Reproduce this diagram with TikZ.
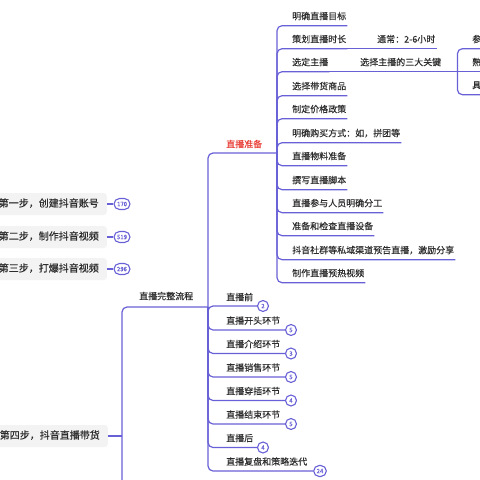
\documentclass[tikz,border=0pt]{standalone}
\usepackage{fontspec}
\setmainfont{Noto Sans CJK SC}[FakeBold=0.3]
\newfontfamily\stepfont{Noto Sans CJK SC}[FakeBold=0.7]
\usepackage{xcolor}
\usepackage{tikz}
\usetikzlibrary{positioning,calc}

\definecolor{branch}{RGB}{104,96,214}
\definecolor{hot}{RGB}{232,64,56}
\definecolor{stepgray}{RGB}{243,243,243}
\definecolor{ink}{RGB}{45,45,45}

\begin{document}
\begin{tikzpicture}[x=1pt, y=-1pt,
  link/.style={draw=branch, line width=1.2pt, rounded corners=5pt},
  stepbox/.style={fill=stepgray, rounded corners=3pt, anchor=east, inner xsep=8pt, inner ysep=0pt,
    minimum height=22pt, text height=7.6pt, text depth=2pt, font=\stepfont\fontsize{10}{12}\selectfont, text=ink},
  topic/.style={anchor=west, inner xsep=1pt, inner ysep=4pt, text height=7pt, text depth=2pt,
    font=\fontsize{9}{11}\selectfont, text=ink},
  badge/.style={draw=branch, fill=white, line width=1.1pt, rounded corners=5.5pt, minimum width=11pt,
    minimum height=11pt, inner xsep=3pt, inner ysep=0pt, text height=4.4pt, text depth=0pt,
    font=\fontsize{6}{7}\selectfont, text=branch}]
  \useasboundingbox (0,0) rectangle (480,480);
  \clip (0,0) rectangle (480,480);

  % Left: the four steps
  \node[stepbox] (s1) at (107,204) {第一步，创建抖音账号};
  \node[badge] (b1) at (122,204) {170};
  \draw[link] (s1) -- (b1);
  \node[stepbox] (s2) at (107,237) {第二步，制作抖音视频};
  \node[badge] (b2) at (122,237) {519};
  \draw[link] (s2) -- (b2);
  \node[stepbox] (s3) at (107,269) {第三步，打爆抖音视频};
  \node[badge] (b3) at (122,269) {296};
  \draw[link] (s3) -- (b3);
  \node[stepbox] (s4) at (108,436) {第四步，抖音直播带货};

  % Step four: trunk down to the whole flow
  \coordinate (flowj) at (122,436);
  \coordinate (mainj) at (208,307);
  \coordinate (more) at (122,490);
  \draw[link] (s4) -- (flowj);
  \draw[link] (mainj) -| (more);
  \node[topic] (flow) at (138,297) {直播完整流程};

  % Phases of the live stream
  \node[topic, text=hot] (prep) at (225,145) {直播准备};
  \coordinate (prepj) at (277,153);
  \draw[link] (mainj) |- (prepj);

  \node[topic] (p1) at (225,298) {直播前};
  \node[badge] (p1b) at (263,306) {2};
  \draw[link] (mainj) |- (p1b);
  \node[topic] (p2) at (225,321.5) {直播开头环节};
  \node[badge] (p2b) at (291,330) {5};
  \draw[link] (mainj) |- (p2b);
  \node[topic] (p3) at (225,345) {直播介绍环节};
  \node[badge] (p3b) at (291,353.5) {3};
  \draw[link] (mainj) |- (p3b);
  \node[topic] (p4) at (225,368.5) {直播销售环节};
  \node[badge] (p4b) at (291,377) {5};
  \draw[link] (mainj) |- (p4b);
  \node[topic] (p5) at (225,392) {直播穿插环节};
  \node[badge] (p5b) at (291,400.5) {4};
  \draw[link] (mainj) |- (p5b);
  \node[topic] (p6) at (225,415.5) {直播结束环节};
  \node[badge] (p6b) at (291,424) {5};
  \draw[link] (mainj) |- (p6b);
  \node[topic] (p7) at (225,439) {直播后};
  \node[badge] (p7b) at (263,447.5) {4};
  \draw[link] (mainj) |- (p7b);
  \node[topic] (p8) at (225,462.5) {直播复盘和策略迭代};
  \node[badge] (p8b) at (320,471) {24};
  \draw[link] (mainj) |- (p8b);

  % Preparation tasks
  \node[topic] (m1) at (291,17) {明确直播目标};
  \node[topic] (m2) at (291,40) {策划直播时长};
  \node[topic] (m2a) at (376,40) {通常：2-6小时};
  \node[topic] (m3) at (291,63) {选定主播};
  \node[topic] (m3a) at (359,63) {选择主播的三大关键};
  \node[topic] (m4) at (291,87) {选择带货商品};
  \node[topic] (m5) at (291,110) {制定价格政策};
  \node[topic] (m6) at (291,134) {明确购买方式：如，拼团等};
  \node[topic] (m7) at (291,157) {直播物料准备};
  \node[topic] (m8) at (291,181) {撰写直播脚本};
  \node[topic] (m9) at (291,204) {直播参与人员明确分工};
  \node[topic] (m10) at (291,227) {准备和检查直播设备};
  \node[topic] (m11) at (291,251) {抖音社群等私域渠道预告直播，激励分享};
  \node[topic] (m12) at (291,274) {制作直播预热视频};
  \foreach \m in {m1,m2,m3,m4,m5,m6,m7,m8,m9,m10,m11,m12}
    \draw[link] (prepj) |- (\m.south east);
  \draw[link] (m2.south east) -- (m2a.south east);

  % Three keys for the host (cut at the right edge)
  \coordinate (keyj) at ($(m3a.south east)+(15,0)$);
  \draw[link] (m3.south east) -- (m3a.south east) -- (keyj);
  \node[topic] (r1) at (471,40) {参};
  \node[topic] (r2) at (471,63) {熟};
  \node[topic] (r3) at (471,86) {具};
  \draw[link] (keyj) |- (r1.south east);
  \draw[link] (keyj) -- (r2.south east);
  \draw[link] (keyj) |- (r3.south east);
\end{tikzpicture}
\end{document}
